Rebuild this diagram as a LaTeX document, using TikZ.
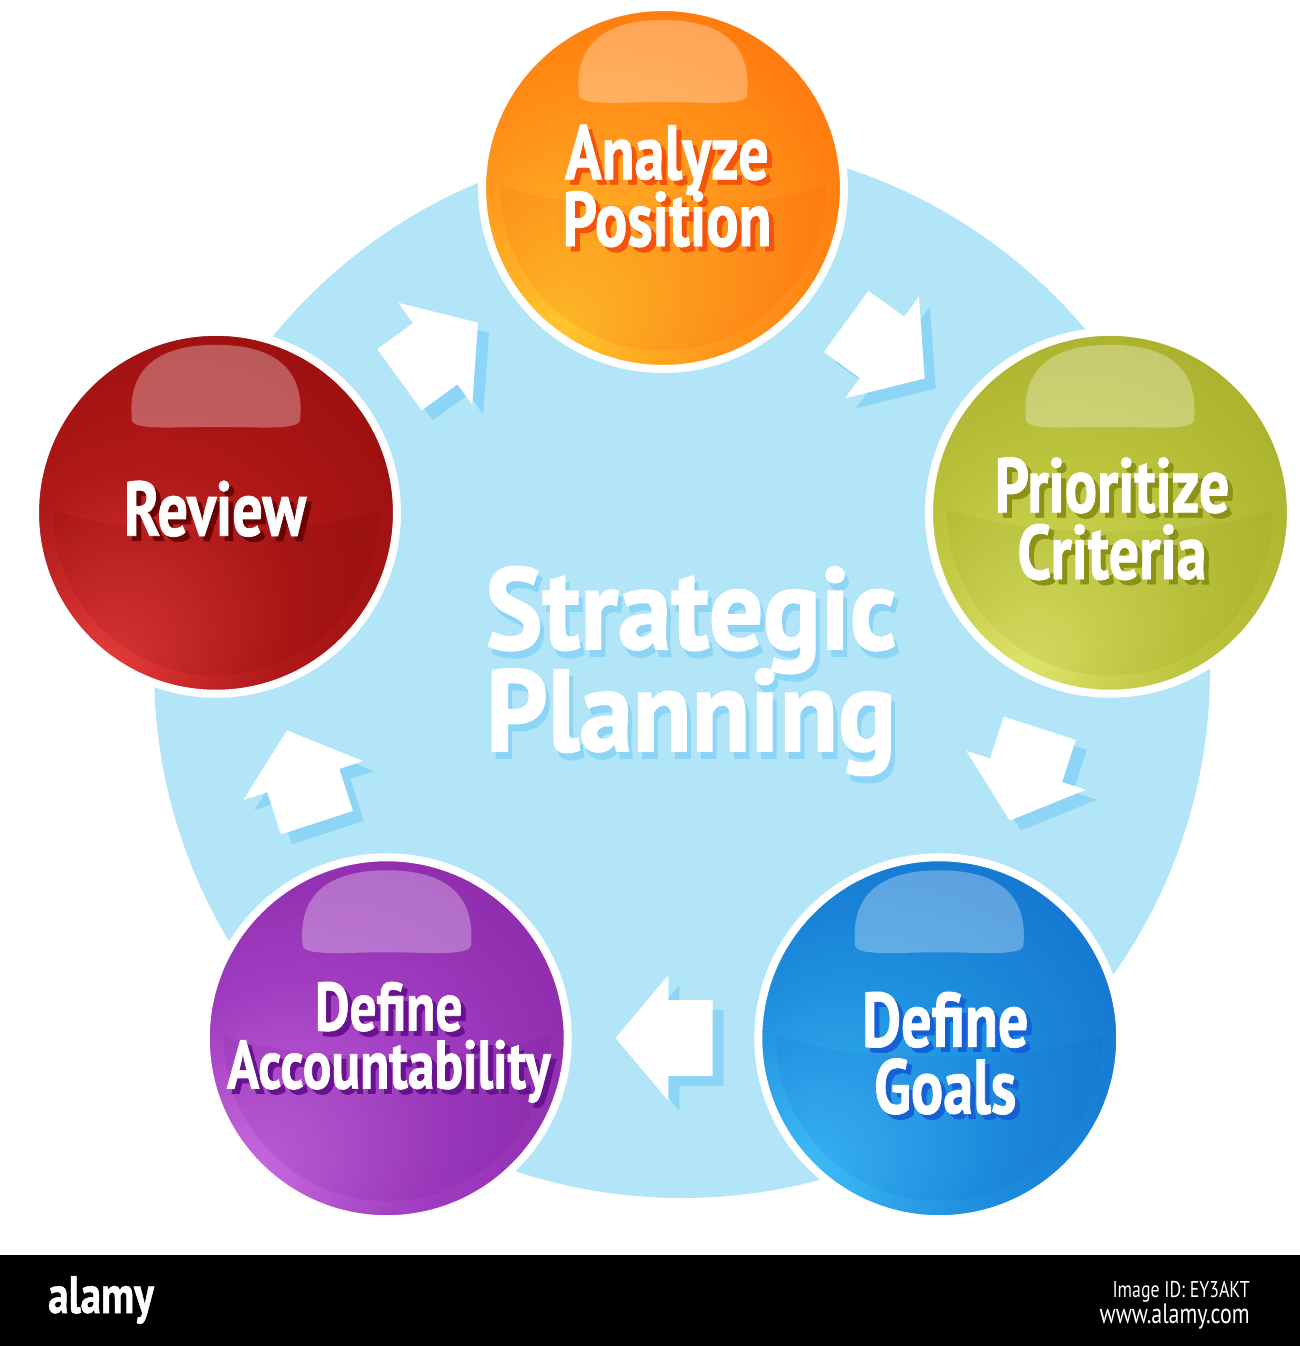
\documentclass[tikz,border=0pt]{standalone}
\usepackage{fontspec}
\usetikzlibrary{shapes.arrows}
\newfontfamily\condfont[FakeStretch=0.78, BoldFeatures={FakeBold=1.0}]{PT Sans}
\newfontfamily\titlefont[FakeStretch=0.93, BoldFeatures={FakeBold=1.4}]{PT Sans}
\lineskiplimit=-100pt

% colours
\definecolor{sky}{HTML}{B3E5F9}
\definecolor{skyshadow}{HTML}{8DD5F6}
\definecolor{orSpot}{HTML}{FFC62C}
\definecolor{orMid}{HTML}{FF961C}
\definecolor{orEdge}{HTML}{FF6000}
\definecolor{orShadow}{HTML}{F5520A}
\definecolor{grSpot}{HTML}{DDE46A}
\definecolor{grMid}{HTML}{BCC33C}
\definecolor{grEdge}{HTML}{9CA222}
\definecolor{grShadow}{HTML}{8C9216}
\definecolor{blSpot}{HTML}{40BEF8}
\definecolor{blMid}{HTML}{1E90DE}
\definecolor{blEdge}{HTML}{0F62C6}
\definecolor{blShadow}{HTML}{1460D4}
\definecolor{puSpot}{HTML}{C86CDE}
\definecolor{puMid}{HTML}{A03CC0}
\definecolor{puEdge}{HTML}{80209E}
\definecolor{puShadow}{HTML}{681290}
\definecolor{reSpot}{HTML}{E63C3C}
\definecolor{reMid}{HTML}{B01818}
\definecolor{reEdge}{HTML}{8C0A0A}
\definecolor{reShadow}{HTML}{6A0404}

\pgfdeclareradialshading{orangeball}{\pgfpoint{-15bp}{-20bp}}{color(0bp)=(orSpot); color(20bp)=(orMid); color(46bp)=(orEdge); color(50bp)=(orEdge)}
\pgfdeclareradialshading{greenball}{\pgfpoint{-12bp}{-22bp}}{color(0bp)=(grSpot); color(20bp)=(grMid); color(46bp)=(grEdge); color(50bp)=(grEdge)}
\pgfdeclareradialshading{blueball}{\pgfpoint{-20bp}{-20bp}}{color(0bp)=(blSpot); color(20bp)=(blMid); color(46bp)=(blEdge); color(50bp)=(blEdge)}
\pgfdeclareradialshading{purpleball}{\pgfpoint{-20bp}{-20bp}}{color(0bp)=(puSpot); color(20bp)=(puMid); color(46bp)=(puEdge); color(50bp)=(puEdge)}
\pgfdeclareradialshading{redball}{\pgfpoint{-16bp}{-22bp}}{color(0bp)=(reSpot); color(20bp)=(reMid); color(46bp)=(reEdge); color(50bp)=(reEdge)}

\tikzset{
  ball/.style={circle, shade, minimum size=7.24cm, inner sep=0pt, draw=white, line width=0.16cm},
  flow/.style={single arrow, fill=white, inner xsep=0pt, inner ysep=0.75cm, minimum height=1.94cm,
    single arrow head extend=0.5cm, single arrow tip angle=100},
  lbl/.style={text=white, align=center, inner sep=0pt, font=\condfont\bfseries\fontsize{44}{38}\selectfont},
  lblsmall/.style={lbl, font=\condfont\bfseries\fontsize{39}{33}\selectfont},
  title/.style={text=white, align=center, inner sep=0pt, font=\titlefont\bfseries\fontsize{66}{58}\selectfont},
}

\begin{document}
\begin{tikzpicture}[x=0.02cm, y=0.02cm]
  \useasboundingbox (0,0) rectangle (1300,-1346);
  % backdrop
  \fill[sky] (682,-670) circle (528);
  \coordinate (hub) at (663,-658);
  % arrows
  \foreach \a [count=\i] in {126,54,-18,-90,-162}{
    \node[flow, fill=skyshadow, xshift=0.22cm, yshift=-0.2cm, rotate=\a-90, xshift=-0.34cm] (flowshadow\i) at ([shift={(\a:380)}]hub) {};
    \node[flow, rotate=\a-90, xshift=-0.34cm] (flow\i) at ([shift={(\a:380)}]hub) {};
  }
  % balls
  \node[ball, shading=orangeball] (analyze) at ([shift={(90:470)}]hub) {};
  \node[ball, shading=greenball] (prioritize) at ([shift={(18:470)}]hub) {};
  \node[ball, shading=blueball] (goals) at ([shift={(-54:470)}]hub) {};
  \node[ball, shading=purpleball] (account) at ([shift={(-126:470)}]hub) {};
  \node[ball, shading=redball] (review) at ([shift={(162:470)}]hub) {};
  % gloss
  \foreach \b/\c in {analyze/orShadow, prioritize/grShadow, goals/blShadow, account/puShadow, review/reShadow}{
    \begin{scope}[shift={(\b.center)}]
      \fill[white, opacity=.3] (-84,92) .. controls (-90,150) and (-50,168) .. (0,168)
        .. controls (50,168) and (90,150) .. (84,92) .. controls (80,82) and (40,86) .. (0,86)
        .. controls (-40,86) and (-80,82) .. (-84,92);
      \fill[\c, opacity=.12] (-163,3) .. controls (-80,-26) and (80,-26) .. (163,3)
        arc[start angle=1, end angle=-181, radius=163];
    \end{scope}
  }
  % labels
  \node[lbl, text=orShadow] (analyzeshadow) at ([shift={(9,-3)}]analyze) {Analyze\\Position};
  \node[lbl] (analyzetext) at ([shift={(4,2)}]analyze) {Analyze\\Position};
  \node[lbl, text=grShadow] (prioritizeshadow) at ([shift={(7,-11)}]prioritize) {Prioritize\\Criteria};
  \node[lbl] (prioritizetext) at ([shift={(2,-6)}]prioritize) {Prioritize\\Criteria};
  \node[lbl, text=blShadow] (goalsshadow) at ([shift={(11,-20)}]goals) {Define\\Goals};
  \node[lbl] (goalstext) at ([shift={(6,-15)}]goals) {Define\\Goals};
  \node[lblsmall, text=puShadow] (accountshadow) at ([shift={(7,-9)}]account) {Define\\Accountability};
  \node[lblsmall] (accounttext) at ([shift={(2,-4)}]account) {Define\\Accountability};
  \node[lbl, text=reShadow] (reviewshadow) at ([shift={(4,-1)}]review) {Review};
  \node[lbl] (reviewtext) at ([shift={(-1,4)}]review) {Review};
  % centre
  \node[title, text=skyshadow] (centreshadow) at (695,-678) {Strategic\\Planning};
  \node[title] (centre) at (691,-671) {Strategic\\Planning};
  % banner
  \fill[black] (0,-1255) rectangle (1300,-1346);
  \node[text=white, inner sep=0pt, font=\condfont\bfseries\fontsize{30}{30}\selectfont] (logo) at (101,-1300) {alamy};
  \node[text=white, anchor=east, inner sep=0pt, font=\condfont\fontsize{13}{14}\selectfont] (imageid) at (1250,-1292) {Image ID: EY3AKT};
  \node[text=white, anchor=east, inner sep=0pt, font=\condfont\fontsize{16}{18}\selectfont] (site) at (1250,-1317) {www.alamy.com};
\end{tikzpicture}
\end{document}
